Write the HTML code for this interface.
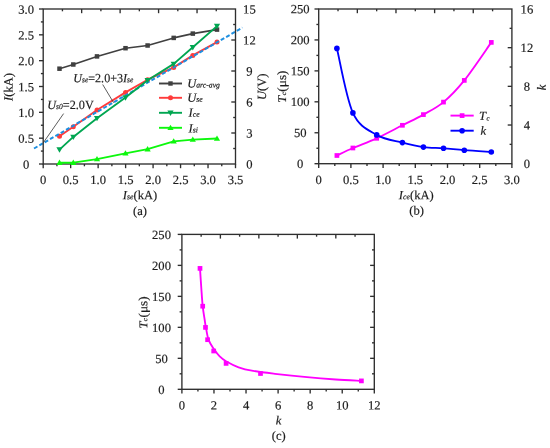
<!DOCTYPE html>
<html lang="en">
<head>
<meta charset="utf-8">
<title>Figure</title>
<style>
html,body{margin:0;padding:0;background:#ffffff;}
body{width:550px;height:448px;overflow:hidden;}
svg{display:block;}
svg text{font-family:"Liberation Serif","DejaVu Serif",serif;fill:#1c1c1c;stroke:#1c1c1c;stroke-width:0.18px;}
</style>
</head>
<body>
<svg width="550" height="448" viewBox="0 0 550 448">
<rect x="0" y="0" width="550" height="448" fill="#ffffff"/>
<path d="M59.5,68.7 L73.3,64.5 L97,56.4 L125.5,48.2 L147.6,45.5 L173.7,37.9 L192.8,33.6 L217,29.6" fill="none" stroke="#404040" stroke-width="1.6" stroke-linejoin="round" stroke-linecap="round" />
<rect x="57.25" y="66.45" width="4.5" height="4.5" fill="#404040"/>
<rect x="71.05" y="62.25" width="4.5" height="4.5" fill="#404040"/>
<rect x="94.75" y="54.15" width="4.5" height="4.5" fill="#404040"/>
<rect x="123.25" y="45.95" width="4.5" height="4.5" fill="#404040"/>
<rect x="145.35" y="43.25" width="4.5" height="4.5" fill="#404040"/>
<rect x="171.45" y="35.65" width="4.5" height="4.5" fill="#404040"/>
<rect x="190.55" y="31.35" width="4.5" height="4.5" fill="#404040"/>
<rect x="214.75" y="27.35" width="4.5" height="4.5" fill="#404040"/>
<path d="M59.5,136.2 L73.3,126.7 L97,110 L125.5,92.4 L147.6,79.7 L173.7,67.4 L192.8,55.4 L217,42.1" fill="none" stroke="#ff3b3b" stroke-width="1.85" stroke-linejoin="round" stroke-linecap="round" />
<circle cx="59.5" cy="136.2" r="2.5" fill="#ff3b3b"/>
<circle cx="73.3" cy="126.7" r="2.5" fill="#ff3b3b"/>
<circle cx="97" cy="110" r="2.5" fill="#ff3b3b"/>
<circle cx="125.5" cy="92.4" r="2.5" fill="#ff3b3b"/>
<circle cx="147.6" cy="79.7" r="2.5" fill="#ff3b3b"/>
<circle cx="173.7" cy="67.4" r="2.5" fill="#ff3b3b"/>
<circle cx="192.8" cy="55.4" r="2.5" fill="#ff3b3b"/>
<circle cx="217" cy="42.1" r="2.5" fill="#ff3b3b"/>
<line x1="34" y1="148.5" x2="242.4" y2="27.6" stroke="#1e8fe0" stroke-width="2" stroke-dasharray="4 2.17"/>
<rect x="43.2" y="9" width="192.3" height="155" fill="none" stroke="#2e2e2e" stroke-width="1.35"/>
<line x1="43.2" y1="164" x2="43.2" y2="168.2" stroke="#2e2e2e" stroke-width="1.35" />
<text transform="translate(43.2,184.1) rotate(0.03) scale(1.0,1)" text-anchor="middle" font-size="12.6" >0</text>
<line x1="56.94" y1="164" x2="56.94" y2="166.3" stroke="#2e2e2e" stroke-width="1.35" />
<line x1="70.67" y1="164" x2="70.67" y2="168.2" stroke="#2e2e2e" stroke-width="1.35" />
<text transform="translate(70.67,184.1) rotate(0.03) scale(1.0,1)" text-anchor="middle" font-size="12.6" >0.5</text>
<line x1="84.41" y1="164" x2="84.41" y2="166.3" stroke="#2e2e2e" stroke-width="1.35" />
<line x1="98.14" y1="164" x2="98.14" y2="168.2" stroke="#2e2e2e" stroke-width="1.35" />
<text transform="translate(98.14,184.1) rotate(0.03) scale(1.0,1)" text-anchor="middle" font-size="12.6" >1.0</text>
<line x1="111.88" y1="164" x2="111.88" y2="166.3" stroke="#2e2e2e" stroke-width="1.35" />
<line x1="125.61" y1="164" x2="125.61" y2="168.2" stroke="#2e2e2e" stroke-width="1.35" />
<text transform="translate(125.61,184.1) rotate(0.03) scale(1.0,1)" text-anchor="middle" font-size="12.6" >1.5</text>
<line x1="139.35" y1="164" x2="139.35" y2="166.3" stroke="#2e2e2e" stroke-width="1.35" />
<line x1="153.09" y1="164" x2="153.09" y2="168.2" stroke="#2e2e2e" stroke-width="1.35" />
<text transform="translate(153.09,184.1) rotate(0.03) scale(1.0,1)" text-anchor="middle" font-size="12.6" >2.0</text>
<line x1="166.82" y1="164" x2="166.82" y2="166.3" stroke="#2e2e2e" stroke-width="1.35" />
<line x1="180.56" y1="164" x2="180.56" y2="168.2" stroke="#2e2e2e" stroke-width="1.35" />
<text transform="translate(180.56,184.1) rotate(0.03) scale(1.0,1)" text-anchor="middle" font-size="12.6" >2.5</text>
<line x1="194.29" y1="164" x2="194.29" y2="166.3" stroke="#2e2e2e" stroke-width="1.35" />
<line x1="208.03" y1="164" x2="208.03" y2="168.2" stroke="#2e2e2e" stroke-width="1.35" />
<text transform="translate(208.03,184.1) rotate(0.03) scale(1.0,1)" text-anchor="middle" font-size="12.6" >3.0</text>
<line x1="221.76" y1="164" x2="221.76" y2="166.3" stroke="#2e2e2e" stroke-width="1.35" />
<line x1="235.5" y1="164" x2="235.5" y2="168.2" stroke="#2e2e2e" stroke-width="1.35" />
<text transform="translate(235.5,184.1) rotate(0.03) scale(1.0,1)" text-anchor="middle" font-size="12.6" >3.5</text>
<line x1="62.43" y1="9" x2="62.43" y2="11.3" stroke="#2e2e2e" stroke-width="1.35" />
<line x1="81.66" y1="9" x2="81.66" y2="13.2" stroke="#2e2e2e" stroke-width="1.35" />
<line x1="100.89" y1="9" x2="100.89" y2="11.3" stroke="#2e2e2e" stroke-width="1.35" />
<line x1="120.12" y1="9" x2="120.12" y2="13.2" stroke="#2e2e2e" stroke-width="1.35" />
<line x1="139.35" y1="9" x2="139.35" y2="11.3" stroke="#2e2e2e" stroke-width="1.35" />
<line x1="158.58" y1="9" x2="158.58" y2="13.2" stroke="#2e2e2e" stroke-width="1.35" />
<line x1="177.81" y1="9" x2="177.81" y2="11.3" stroke="#2e2e2e" stroke-width="1.35" />
<line x1="197.04" y1="9" x2="197.04" y2="13.2" stroke="#2e2e2e" stroke-width="1.35" />
<line x1="216.27" y1="9" x2="216.27" y2="11.3" stroke="#2e2e2e" stroke-width="1.35" />
<line x1="43.2" y1="164" x2="39" y2="164" stroke="#2e2e2e" stroke-width="1.35" />
<text transform="translate(26.2,168.7) rotate(0.03) scale(1.0,1)" text-anchor="middle" font-size="12.6" >0</text>
<line x1="43.2" y1="151.08" x2="40.9" y2="151.08" stroke="#2e2e2e" stroke-width="1.35" />
<line x1="43.2" y1="138.17" x2="39" y2="138.17" stroke="#2e2e2e" stroke-width="1.35" />
<text transform="translate(26.2,142.87) rotate(0.03) scale(1.0,1)" text-anchor="middle" font-size="12.6" >0.5</text>
<line x1="43.2" y1="125.25" x2="40.9" y2="125.25" stroke="#2e2e2e" stroke-width="1.35" />
<line x1="43.2" y1="112.33" x2="39" y2="112.33" stroke="#2e2e2e" stroke-width="1.35" />
<text transform="translate(26.2,117.03) rotate(0.03) scale(1.0,1)" text-anchor="middle" font-size="12.6" >1.0</text>
<line x1="43.2" y1="99.42" x2="40.9" y2="99.42" stroke="#2e2e2e" stroke-width="1.35" />
<line x1="43.2" y1="86.5" x2="39" y2="86.5" stroke="#2e2e2e" stroke-width="1.35" />
<text transform="translate(26.2,91.2) rotate(0.03) scale(1.0,1)" text-anchor="middle" font-size="12.6" >1.5</text>
<line x1="43.2" y1="73.58" x2="40.9" y2="73.58" stroke="#2e2e2e" stroke-width="1.35" />
<line x1="43.2" y1="60.67" x2="39" y2="60.67" stroke="#2e2e2e" stroke-width="1.35" />
<text transform="translate(26.2,65.37) rotate(0.03) scale(1.0,1)" text-anchor="middle" font-size="12.6" >2.0</text>
<line x1="43.2" y1="47.75" x2="40.9" y2="47.75" stroke="#2e2e2e" stroke-width="1.35" />
<line x1="43.2" y1="34.83" x2="39" y2="34.83" stroke="#2e2e2e" stroke-width="1.35" />
<text transform="translate(26.2,39.53) rotate(0.03) scale(1.0,1)" text-anchor="middle" font-size="12.6" >2.5</text>
<line x1="43.2" y1="21.92" x2="40.9" y2="21.92" stroke="#2e2e2e" stroke-width="1.35" />
<line x1="43.2" y1="9" x2="39" y2="9" stroke="#2e2e2e" stroke-width="1.35" />
<text transform="translate(26.2,13.7) rotate(0.03) scale(1.0,1)" text-anchor="middle" font-size="12.6" >3.0</text>
<text transform="translate(249.4,168.4) rotate(0.03) scale(1.0,1)" text-anchor="middle" font-size="12.6" >0</text>
<line x1="235.5" y1="148.5" x2="233.2" y2="148.5" stroke="#2e2e2e" stroke-width="1.35" />
<line x1="235.5" y1="133" x2="231.3" y2="133" stroke="#2e2e2e" stroke-width="1.35" />
<text transform="translate(249.4,137.4) rotate(0.03) scale(1.0,1)" text-anchor="middle" font-size="12.6" >3</text>
<line x1="235.5" y1="117.5" x2="233.2" y2="117.5" stroke="#2e2e2e" stroke-width="1.35" />
<line x1="235.5" y1="102" x2="231.3" y2="102" stroke="#2e2e2e" stroke-width="1.35" />
<text transform="translate(249.4,106.4) rotate(0.03) scale(1.0,1)" text-anchor="middle" font-size="12.6" >6</text>
<line x1="235.5" y1="86.5" x2="233.2" y2="86.5" stroke="#2e2e2e" stroke-width="1.35" />
<line x1="235.5" y1="71" x2="231.3" y2="71" stroke="#2e2e2e" stroke-width="1.35" />
<text transform="translate(249.4,75.4) rotate(0.03) scale(1.0,1)" text-anchor="middle" font-size="12.6" >9</text>
<line x1="235.5" y1="55.5" x2="233.2" y2="55.5" stroke="#2e2e2e" stroke-width="1.35" />
<line x1="235.5" y1="40" x2="231.3" y2="40" stroke="#2e2e2e" stroke-width="1.35" />
<text transform="translate(249.4,44.4) rotate(0.03) scale(1.0,1)" text-anchor="middle" font-size="12.6" >12</text>
<line x1="235.5" y1="24.5" x2="233.2" y2="24.5" stroke="#2e2e2e" stroke-width="1.35" />
<text transform="translate(249.4,13.4) rotate(0.03) scale(1.0,1)" text-anchor="middle" font-size="12.6" >15</text>
<path d="M59.5,149.6 L73.3,136.9 L97,118.2 L125.5,97.6 L147.6,80.2 L173.7,63.9 L192.8,47.3 L217,26.1" fill="none" stroke="#00a651" stroke-width="1.85" stroke-linejoin="round" stroke-linecap="round" />
<path d="M59.5,152.7 L62.6,147.37 L56.4,147.37 Z" fill="#00a651"/>
<path d="M73.3,140 L76.4,134.67 L70.2,134.67 Z" fill="#00a651"/>
<path d="M97,121.3 L100.1,115.97 L93.9,115.97 Z" fill="#00a651"/>
<path d="M125.5,100.7 L128.6,95.37 L122.4,95.37 Z" fill="#00a651"/>
<path d="M147.6,83.3 L150.7,77.97 L144.5,77.97 Z" fill="#00a651"/>
<path d="M173.7,67 L176.8,61.67 L170.6,61.67 Z" fill="#00a651"/>
<path d="M192.8,50.4 L195.9,45.07 L189.7,45.07 Z" fill="#00a651"/>
<path d="M217,29.2 L220.1,23.87 L213.9,23.87 Z" fill="#00a651"/>
<path d="M59.5,162.7 L73.3,162.7 L97,159.1 L125.5,153.3 L147.6,149.2 L173.7,141.3 L192.8,139.6 L217,138.5" fill="none" stroke="#0cf70c" stroke-width="1.85" stroke-linejoin="round" stroke-linecap="round" />
<path d="M59.5,159.6 L62.6,164.93 L56.4,164.93 Z" fill="#0cf70c"/>
<path d="M73.3,159.6 L76.4,164.93 L70.2,164.93 Z" fill="#0cf70c"/>
<path d="M97,156 L100.1,161.33 L93.9,161.33 Z" fill="#0cf70c"/>
<path d="M125.5,150.2 L128.6,155.53 L122.4,155.53 Z" fill="#0cf70c"/>
<path d="M147.6,146.1 L150.7,151.43 L144.5,151.43 Z" fill="#0cf70c"/>
<path d="M173.7,138.2 L176.8,143.53 L170.6,143.53 Z" fill="#0cf70c"/>
<path d="M192.8,136.5 L195.9,141.83 L189.7,141.83 Z" fill="#0cf70c"/>
<path d="M217,135.4 L220.1,140.73 L213.9,140.73 Z" fill="#0cf70c"/>
<line x1="102.7" y1="84.5" x2="113.6" y2="102.7" stroke="#333" stroke-width="0.8" />
<line x1="63.6" y1="113.6" x2="43.2" y2="142.9" stroke="#333" stroke-width="0.8" />
<text transform="translate(73.3,82.2) rotate(0.03) scale(1.0,1)" text-anchor="start" font-size="12.6" textLength="60" lengthAdjust="spacingAndGlyphs"><tspan font-style="italic">U</tspan><tspan font-size="7.8" font-style="italic">se</tspan><tspan>=2.0+3</tspan><tspan font-style="italic">I</tspan><tspan font-size="7.8" font-style="italic">se</tspan></text>
<text transform="translate(47.2,109) rotate(0.03) scale(1.0,1)" text-anchor="start" font-size="12.6" textLength="46.6" lengthAdjust="spacingAndGlyphs"><tspan font-style="italic">U</tspan><tspan font-size="7.8" font-style="italic">s0</tspan><tspan>=2.0V</tspan></text>
<line x1="159" y1="83.5" x2="182" y2="83.5" stroke="#404040" stroke-width="1.9" />
<line x1="159" y1="97.8" x2="182" y2="97.8" stroke="#ff3b3b" stroke-width="1.9" />
<line x1="159" y1="112.8" x2="182" y2="112.8" stroke="#00a651" stroke-width="1.9" />
<line x1="159" y1="127.8" x2="182" y2="127.8" stroke="#0cf70c" stroke-width="1.9" />
<rect x="168.3" y="81.3" width="4.4" height="4.4" fill="#404040"/>
<circle cx="170.5" cy="97.8" r="2.5" fill="#ff3b3b"/>
<path d="M170.5,115.9 L173.6,110.57 L167.4,110.57 Z" fill="#00a651"/>
<path d="M170.5,124.7 L173.6,130.03 L167.4,130.03 Z" fill="#0cf70c"/>
<text transform="translate(187.2,87.5) rotate(0.03) scale(1.0,1)" text-anchor="start" font-size="12.6" textLength="32.8" lengthAdjust="spacingAndGlyphs"><tspan font-style="italic">U</tspan><tspan font-size="7.8" font-style="italic">arc-avg</tspan></text>
<text transform="translate(187.2,101.8) rotate(0.03) scale(1.0,1)" text-anchor="start" font-size="12.6" ><tspan font-style="italic">U</tspan><tspan font-size="7.8" font-style="italic">se</tspan></text>
<text transform="translate(188.6,116.8) rotate(0.03) scale(1.0,1)" text-anchor="start" font-size="12.6" ><tspan font-style="italic">I</tspan><tspan font-size="7.8" font-style="italic">ce</tspan></text>
<text transform="translate(188.6,132.5) rotate(0.03) scale(1.0,1)" text-anchor="start" font-size="12.6" ><tspan font-style="italic">I</tspan><tspan font-size="7.8" font-style="italic">si</tspan></text>
<text transform="translate(140,199.3) rotate(0.03) scale(1.0,1)" text-anchor="middle" font-size="12.6" ><tspan font-style="italic">I</tspan><tspan font-size="7.8" font-style="italic">se</tspan><tspan>(kA)</tspan></text>
<text transform="translate(140,215) rotate(0.03) scale(1.0,1)" text-anchor="middle" font-size="12.6" >(a)</text>
<text transform="translate(12.4,87) rotate(-90.03) scale(1.0,1)" text-anchor="middle" font-size="12.6" ><tspan font-style="italic">I</tspan>(kA)</text>
<text transform="translate(266.1,86.8) rotate(-90.03) scale(1.0,1)" text-anchor="middle" font-size="12.6" ><tspan font-style="italic">U</tspan>(V)</text>
<path d="M336.9,155.5 C339.57,154.25 346.27,150.87 352.9,148 C359.53,145.13 368.45,142.08 376.7,138.3 C384.95,134.52 394.62,129.25 402.4,125.3 C410.18,121.35 416.55,118.47 423.4,114.6 C430.25,110.73 436.68,107.8 443.5,102.1 C450.32,96.4 456.33,90.35 464.3,80.4 C472.27,70.45 486.8,48.73 491.3,42.4" fill="none" stroke="#ff00ff" stroke-width="1.85" stroke-linejoin="round" stroke-linecap="round" />
<path d="M336.9,48.4 C339.57,59.15 346.27,98.48 352.9,112.9 C359.53,127.32 368.45,129.95 376.7,134.9 C384.95,139.85 394.62,140.57 402.4,142.6 C410.18,144.63 416.55,146.15 423.4,147.1 C430.25,148.05 436.68,147.78 443.5,148.3 C450.32,148.82 456.33,149.58 464.3,150.2 C472.27,150.82 486.8,151.7 491.3,152" fill="none" stroke="#0000ff" stroke-width="1.85" stroke-linejoin="round" stroke-linecap="round" />
<rect x="334.55" y="153.15" width="4.7" height="4.7" fill="#ff00ff"/>
<rect x="350.55" y="145.65" width="4.7" height="4.7" fill="#ff00ff"/>
<rect x="374.35" y="135.95" width="4.7" height="4.7" fill="#ff00ff"/>
<rect x="400.05" y="122.95" width="4.7" height="4.7" fill="#ff00ff"/>
<rect x="421.05" y="112.25" width="4.7" height="4.7" fill="#ff00ff"/>
<rect x="441.15" y="99.75" width="4.7" height="4.7" fill="#ff00ff"/>
<rect x="461.95" y="78.05" width="4.7" height="4.7" fill="#ff00ff"/>
<rect x="488.95" y="40.05" width="4.7" height="4.7" fill="#ff00ff"/>
<circle cx="336.9" cy="48.4" r="2.8" fill="#0000ff"/>
<circle cx="352.9" cy="112.9" r="2.8" fill="#0000ff"/>
<circle cx="376.7" cy="134.9" r="2.8" fill="#0000ff"/>
<circle cx="402.4" cy="142.6" r="2.8" fill="#0000ff"/>
<circle cx="423.4" cy="147.1" r="2.8" fill="#0000ff"/>
<circle cx="443.5" cy="148.3" r="2.8" fill="#0000ff"/>
<circle cx="464.3" cy="150.2" r="2.8" fill="#0000ff"/>
<circle cx="491.3" cy="152" r="2.8" fill="#0000ff"/>
<rect x="318.7" y="9" width="193.2" height="154.7" fill="none" stroke="#2e2e2e" stroke-width="1.35"/>
<line x1="318.7" y1="163.7" x2="318.7" y2="167.9" stroke="#2e2e2e" stroke-width="1.35" />
<text transform="translate(318.7,184.1) rotate(0.03) scale(1.0,1)" text-anchor="middle" font-size="12.6" >0</text>
<line x1="334.8" y1="163.7" x2="334.8" y2="166" stroke="#2e2e2e" stroke-width="1.35" />
<line x1="350.9" y1="163.7" x2="350.9" y2="167.9" stroke="#2e2e2e" stroke-width="1.35" />
<text transform="translate(350.9,184.1) rotate(0.03) scale(1.0,1)" text-anchor="middle" font-size="12.6" >0.5</text>
<line x1="367" y1="163.7" x2="367" y2="166" stroke="#2e2e2e" stroke-width="1.35" />
<line x1="383.1" y1="163.7" x2="383.1" y2="167.9" stroke="#2e2e2e" stroke-width="1.35" />
<text transform="translate(383.1,184.1) rotate(0.03) scale(1.0,1)" text-anchor="middle" font-size="12.6" >1.0</text>
<line x1="399.2" y1="163.7" x2="399.2" y2="166" stroke="#2e2e2e" stroke-width="1.35" />
<line x1="415.3" y1="163.7" x2="415.3" y2="167.9" stroke="#2e2e2e" stroke-width="1.35" />
<text transform="translate(415.3,184.1) rotate(0.03) scale(1.0,1)" text-anchor="middle" font-size="12.6" >1.5</text>
<line x1="431.4" y1="163.7" x2="431.4" y2="166" stroke="#2e2e2e" stroke-width="1.35" />
<line x1="447.5" y1="163.7" x2="447.5" y2="167.9" stroke="#2e2e2e" stroke-width="1.35" />
<text transform="translate(447.5,184.1) rotate(0.03) scale(1.0,1)" text-anchor="middle" font-size="12.6" >2.0</text>
<line x1="463.6" y1="163.7" x2="463.6" y2="166" stroke="#2e2e2e" stroke-width="1.35" />
<line x1="479.7" y1="163.7" x2="479.7" y2="167.9" stroke="#2e2e2e" stroke-width="1.35" />
<text transform="translate(479.7,184.1) rotate(0.03) scale(1.0,1)" text-anchor="middle" font-size="12.6" >2.5</text>
<line x1="495.8" y1="163.7" x2="495.8" y2="166" stroke="#2e2e2e" stroke-width="1.35" />
<line x1="511.9" y1="163.7" x2="511.9" y2="167.9" stroke="#2e2e2e" stroke-width="1.35" />
<text transform="translate(511.9,184.1) rotate(0.03) scale(1.0,1)" text-anchor="middle" font-size="12.6" >3.0</text>
<line x1="338.02" y1="9" x2="338.02" y2="11.3" stroke="#2e2e2e" stroke-width="1.35" />
<line x1="357.34" y1="9" x2="357.34" y2="13.2" stroke="#2e2e2e" stroke-width="1.35" />
<line x1="376.66" y1="9" x2="376.66" y2="11.3" stroke="#2e2e2e" stroke-width="1.35" />
<line x1="395.98" y1="9" x2="395.98" y2="13.2" stroke="#2e2e2e" stroke-width="1.35" />
<line x1="415.3" y1="9" x2="415.3" y2="11.3" stroke="#2e2e2e" stroke-width="1.35" />
<line x1="434.62" y1="9" x2="434.62" y2="13.2" stroke="#2e2e2e" stroke-width="1.35" />
<line x1="453.94" y1="9" x2="453.94" y2="11.3" stroke="#2e2e2e" stroke-width="1.35" />
<line x1="473.26" y1="9" x2="473.26" y2="13.2" stroke="#2e2e2e" stroke-width="1.35" />
<line x1="492.58" y1="9" x2="492.58" y2="11.3" stroke="#2e2e2e" stroke-width="1.35" />
<line x1="318.7" y1="163.7" x2="314.5" y2="163.7" stroke="#2e2e2e" stroke-width="1.35" />
<text transform="translate(300.2,168) rotate(0.03) scale(1.0,1)" text-anchor="middle" font-size="12.6" >0</text>
<line x1="318.7" y1="148.23" x2="316.4" y2="148.23" stroke="#2e2e2e" stroke-width="1.35" />
<line x1="318.7" y1="132.76" x2="314.5" y2="132.76" stroke="#2e2e2e" stroke-width="1.35" />
<text transform="translate(300.2,137.06) rotate(0.03) scale(1.0,1)" text-anchor="middle" font-size="12.6" >50</text>
<line x1="318.7" y1="117.29" x2="316.4" y2="117.29" stroke="#2e2e2e" stroke-width="1.35" />
<line x1="318.7" y1="101.82" x2="314.5" y2="101.82" stroke="#2e2e2e" stroke-width="1.35" />
<text transform="translate(300.2,106.12) rotate(0.03) scale(1.0,1)" text-anchor="middle" font-size="12.6" >100</text>
<line x1="318.7" y1="86.35" x2="316.4" y2="86.35" stroke="#2e2e2e" stroke-width="1.35" />
<line x1="318.7" y1="70.88" x2="314.5" y2="70.88" stroke="#2e2e2e" stroke-width="1.35" />
<text transform="translate(300.2,75.18) rotate(0.03) scale(1.0,1)" text-anchor="middle" font-size="12.6" >150</text>
<line x1="318.7" y1="55.41" x2="316.4" y2="55.41" stroke="#2e2e2e" stroke-width="1.35" />
<line x1="318.7" y1="39.94" x2="314.5" y2="39.94" stroke="#2e2e2e" stroke-width="1.35" />
<text transform="translate(300.2,44.24) rotate(0.03) scale(1.0,1)" text-anchor="middle" font-size="12.6" >200</text>
<line x1="318.7" y1="24.47" x2="316.4" y2="24.47" stroke="#2e2e2e" stroke-width="1.35" />
<line x1="318.7" y1="9" x2="314.5" y2="9" stroke="#2e2e2e" stroke-width="1.35" />
<text transform="translate(300.2,13.3) rotate(0.03) scale(1.0,1)" text-anchor="middle" font-size="12.6" >250</text>
<text transform="translate(526.9,168.1) rotate(0.03) scale(1.0,1)" text-anchor="middle" font-size="12.6" >0</text>
<line x1="511.9" y1="144.36" x2="509.6" y2="144.36" stroke="#2e2e2e" stroke-width="1.35" />
<line x1="511.9" y1="125.02" x2="507.7" y2="125.02" stroke="#2e2e2e" stroke-width="1.35" />
<text transform="translate(526.9,129.42) rotate(0.03) scale(1.0,1)" text-anchor="middle" font-size="12.6" >4</text>
<line x1="511.9" y1="105.69" x2="509.6" y2="105.69" stroke="#2e2e2e" stroke-width="1.35" />
<line x1="511.9" y1="86.35" x2="507.7" y2="86.35" stroke="#2e2e2e" stroke-width="1.35" />
<text transform="translate(526.9,90.75) rotate(0.03) scale(1.0,1)" text-anchor="middle" font-size="12.6" >8</text>
<line x1="511.9" y1="67.01" x2="509.6" y2="67.01" stroke="#2e2e2e" stroke-width="1.35" />
<line x1="511.9" y1="47.67" x2="507.7" y2="47.67" stroke="#2e2e2e" stroke-width="1.35" />
<text transform="translate(526.9,52.07) rotate(0.03) scale(1.0,1)" text-anchor="middle" font-size="12.6" >12</text>
<line x1="511.9" y1="28.34" x2="509.6" y2="28.34" stroke="#2e2e2e" stroke-width="1.35" />
<text transform="translate(526.9,13.4) rotate(0.03) scale(1.0,1)" text-anchor="middle" font-size="12.6" >16</text>
<line x1="450.5" y1="115.6" x2="473.7" y2="115.6" stroke="#ff00ff" stroke-width="1.9" />
<line x1="450.5" y1="130.7" x2="473.7" y2="130.7" stroke="#0000ff" stroke-width="1.9" />
<rect x="459.75" y="113.25" width="4.7" height="4.7" fill="#ff00ff"/>
<circle cx="462.1" cy="130.7" r="2.8" fill="#0000ff"/>
<text transform="translate(479,120) rotate(0.03) scale(1.0,1)" text-anchor="start" font-size="12.6" ><tspan font-style="italic">T</tspan><tspan font-style="italic" font-size="6.8" dx="0.5" dy="0.4">c</tspan></text>
<text transform="translate(480.4,134.8) rotate(0.03) scale(1.0,1)" text-anchor="start" font-size="12.6" font-style="italic" >k</text>
<text transform="translate(416.3,199.2) rotate(0.03) scale(1.0,1)" text-anchor="middle" font-size="12.6" ><tspan font-style="italic">I</tspan><tspan font-size="7.8" font-style="italic">ce</tspan><tspan>(kA)</tspan></text>
<text transform="translate(416.6,214.6) rotate(0.03) scale(1.0,1)" text-anchor="middle" font-size="12.6" >(b)</text>
<text transform="translate(286,86.6) rotate(-90.03) scale(1.0,1)" text-anchor="middle" font-size="12.6" textLength="32.2" lengthAdjust="spacingAndGlyphs"><tspan font-style="italic" font-size="11.8">T</tspan><tspan font-style="italic" font-size="6.8" dx="0.4">c</tspan><tspan dx="0.5">(μs)</tspan></text>
<text transform="translate(545.7,87.5) rotate(-90.03) scale(1.0,1)" text-anchor="middle" font-size="12.6" ><tspan font-style="italic">k</tspan></text>
<path d="M200,268.4 C200.22,271.67 200.85,281.7 201.3,288 C201.75,294.3 202.13,300.87 202.7,306.2 C203.27,311.53 204.17,316.48 204.7,320 C205.23,323.52 205.27,324.03 205.9,327.3 C206.53,330.57 207.17,335.97 208.5,339.6 C209.83,343.23 212.03,346.3 213.9,349.1 C215.77,351.9 217.68,354.38 219.7,356.4 C221.72,358.42 222.85,359.38 226,361.2 C229.15,363.02 234.07,365.68 238.6,367.3 C243.13,368.92 247.13,369.82 253.2,370.9 C259.27,371.98 266.03,372.75 275,373.8 C283.97,374.85 296.88,376.25 307,377.2 C317.12,378.15 326.63,378.88 335.7,379.5 C344.77,380.12 357.12,380.67 361.4,380.9" fill="none" stroke="#ff00ff" stroke-width="1.85" stroke-linejoin="round" stroke-linecap="round" />
<rect x="197.65" y="266.05" width="4.7" height="4.7" fill="#ff00ff"/>
<rect x="200.35" y="303.85" width="4.7" height="4.7" fill="#ff00ff"/>
<rect x="203.15" y="325.05" width="4.7" height="4.7" fill="#ff00ff"/>
<rect x="205.25" y="337.35" width="4.7" height="4.7" fill="#ff00ff"/>
<rect x="211.35" y="348.65" width="4.7" height="4.7" fill="#ff00ff"/>
<rect x="223.75" y="361.05" width="4.7" height="4.7" fill="#ff00ff"/>
<rect x="258.15" y="371.15" width="4.7" height="4.7" fill="#ff00ff"/>
<rect x="359.05" y="378.55" width="4.7" height="4.7" fill="#ff00ff"/>
<rect x="181.9" y="234.4" width="192.4" height="154.9" fill="none" stroke="#2e2e2e" stroke-width="1.35"/>
<line x1="181.9" y1="389.3" x2="181.9" y2="393.5" stroke="#2e2e2e" stroke-width="1.35" />
<text transform="translate(181.9,409.4) rotate(0.03) scale(1.0,1)" text-anchor="middle" font-size="12.6" >0</text>
<line x1="197.93" y1="389.3" x2="197.93" y2="391.6" stroke="#2e2e2e" stroke-width="1.35" />
<line x1="213.97" y1="389.3" x2="213.97" y2="393.5" stroke="#2e2e2e" stroke-width="1.35" />
<text transform="translate(213.97,409.4) rotate(0.03) scale(1.0,1)" text-anchor="middle" font-size="12.6" >2</text>
<line x1="230" y1="389.3" x2="230" y2="391.6" stroke="#2e2e2e" stroke-width="1.35" />
<line x1="246.03" y1="389.3" x2="246.03" y2="393.5" stroke="#2e2e2e" stroke-width="1.35" />
<text transform="translate(246.03,409.4) rotate(0.03) scale(1.0,1)" text-anchor="middle" font-size="12.6" >4</text>
<line x1="262.07" y1="389.3" x2="262.07" y2="391.6" stroke="#2e2e2e" stroke-width="1.35" />
<line x1="278.1" y1="389.3" x2="278.1" y2="393.5" stroke="#2e2e2e" stroke-width="1.35" />
<text transform="translate(278.1,409.4) rotate(0.03) scale(1.0,1)" text-anchor="middle" font-size="12.6" >6</text>
<line x1="294.13" y1="389.3" x2="294.13" y2="391.6" stroke="#2e2e2e" stroke-width="1.35" />
<line x1="310.17" y1="389.3" x2="310.17" y2="393.5" stroke="#2e2e2e" stroke-width="1.35" />
<text transform="translate(310.17,409.4) rotate(0.03) scale(1.0,1)" text-anchor="middle" font-size="12.6" >8</text>
<line x1="326.2" y1="389.3" x2="326.2" y2="391.6" stroke="#2e2e2e" stroke-width="1.35" />
<line x1="342.23" y1="389.3" x2="342.23" y2="393.5" stroke="#2e2e2e" stroke-width="1.35" />
<text transform="translate(342.23,409.4) rotate(0.03) scale(1.0,1)" text-anchor="middle" font-size="12.6" >10</text>
<line x1="358.27" y1="389.3" x2="358.27" y2="391.6" stroke="#2e2e2e" stroke-width="1.35" />
<line x1="374.3" y1="389.3" x2="374.3" y2="393.5" stroke="#2e2e2e" stroke-width="1.35" />
<text transform="translate(374.3,409.4) rotate(0.03) scale(1.0,1)" text-anchor="middle" font-size="12.6" >12</text>
<line x1="201.14" y1="234.4" x2="201.14" y2="236.7" stroke="#2e2e2e" stroke-width="1.35" />
<line x1="220.38" y1="234.4" x2="220.38" y2="238.6" stroke="#2e2e2e" stroke-width="1.35" />
<line x1="239.62" y1="234.4" x2="239.62" y2="236.7" stroke="#2e2e2e" stroke-width="1.35" />
<line x1="258.86" y1="234.4" x2="258.86" y2="238.6" stroke="#2e2e2e" stroke-width="1.35" />
<line x1="278.1" y1="234.4" x2="278.1" y2="236.7" stroke="#2e2e2e" stroke-width="1.35" />
<line x1="297.34" y1="234.4" x2="297.34" y2="238.6" stroke="#2e2e2e" stroke-width="1.35" />
<line x1="316.58" y1="234.4" x2="316.58" y2="236.7" stroke="#2e2e2e" stroke-width="1.35" />
<line x1="335.82" y1="234.4" x2="335.82" y2="238.6" stroke="#2e2e2e" stroke-width="1.35" />
<line x1="355.06" y1="234.4" x2="355.06" y2="236.7" stroke="#2e2e2e" stroke-width="1.35" />
<line x1="181.9" y1="389.3" x2="177.7" y2="389.3" stroke="#2e2e2e" stroke-width="1.35" />
<text transform="translate(161.5,394) rotate(0.03) scale(1.0,1)" text-anchor="middle" font-size="12.6" >0</text>
<line x1="181.9" y1="373.81" x2="179.6" y2="373.81" stroke="#2e2e2e" stroke-width="1.35" />
<line x1="181.9" y1="358.32" x2="177.7" y2="358.32" stroke="#2e2e2e" stroke-width="1.35" />
<text transform="translate(161.5,363.02) rotate(0.03) scale(1.0,1)" text-anchor="middle" font-size="12.6" >50</text>
<line x1="181.9" y1="342.83" x2="179.6" y2="342.83" stroke="#2e2e2e" stroke-width="1.35" />
<line x1="181.9" y1="327.34" x2="177.7" y2="327.34" stroke="#2e2e2e" stroke-width="1.35" />
<text transform="translate(161.5,332.04) rotate(0.03) scale(1.0,1)" text-anchor="middle" font-size="12.6" >100</text>
<line x1="181.9" y1="311.85" x2="179.6" y2="311.85" stroke="#2e2e2e" stroke-width="1.35" />
<line x1="181.9" y1="296.36" x2="177.7" y2="296.36" stroke="#2e2e2e" stroke-width="1.35" />
<text transform="translate(161.5,301.06) rotate(0.03) scale(1.0,1)" text-anchor="middle" font-size="12.6" >150</text>
<line x1="181.9" y1="280.87" x2="179.6" y2="280.87" stroke="#2e2e2e" stroke-width="1.35" />
<line x1="181.9" y1="265.38" x2="177.7" y2="265.38" stroke="#2e2e2e" stroke-width="1.35" />
<text transform="translate(161.5,270.08) rotate(0.03) scale(1.0,1)" text-anchor="middle" font-size="12.6" >200</text>
<line x1="181.9" y1="249.89" x2="179.6" y2="249.89" stroke="#2e2e2e" stroke-width="1.35" />
<line x1="181.9" y1="234.4" x2="177.7" y2="234.4" stroke="#2e2e2e" stroke-width="1.35" />
<text transform="translate(161.5,239.1) rotate(0.03) scale(1.0,1)" text-anchor="middle" font-size="12.6" >250</text>
<line x1="374.3" y1="373.81" x2="372" y2="373.81" stroke="#2e2e2e" stroke-width="1.35" />
<line x1="374.3" y1="358.32" x2="370.1" y2="358.32" stroke="#2e2e2e" stroke-width="1.35" />
<line x1="374.3" y1="342.83" x2="372" y2="342.83" stroke="#2e2e2e" stroke-width="1.35" />
<line x1="374.3" y1="327.34" x2="370.1" y2="327.34" stroke="#2e2e2e" stroke-width="1.35" />
<line x1="374.3" y1="311.85" x2="372" y2="311.85" stroke="#2e2e2e" stroke-width="1.35" />
<line x1="374.3" y1="296.36" x2="370.1" y2="296.36" stroke="#2e2e2e" stroke-width="1.35" />
<line x1="374.3" y1="280.87" x2="372" y2="280.87" stroke="#2e2e2e" stroke-width="1.35" />
<line x1="374.3" y1="265.38" x2="370.1" y2="265.38" stroke="#2e2e2e" stroke-width="1.35" />
<line x1="374.3" y1="249.89" x2="372" y2="249.89" stroke="#2e2e2e" stroke-width="1.35" />
<text transform="translate(278.6,424.6) rotate(0.03) scale(1.0,1)" text-anchor="middle" font-size="12.6" font-style="italic" >k</text>
<text transform="translate(278.8,439.8) rotate(0.03) scale(1.0,1)" text-anchor="middle" font-size="12.6" >(c)</text>
<text transform="translate(147.3,312.5) rotate(-90.03) scale(1.0,1)" text-anchor="middle" font-size="12.6" textLength="32.2" lengthAdjust="spacingAndGlyphs"><tspan font-style="italic" font-size="11.8">T</tspan><tspan font-style="italic" font-size="6.8" dx="0.4">c</tspan><tspan dx="0.5">(μs)</tspan></text>
</svg>
</body>
</html>
